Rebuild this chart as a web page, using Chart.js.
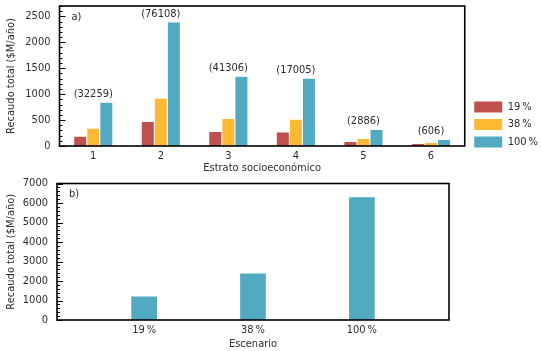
<!DOCTYPE html>
<html>
<head>
<meta charset="utf-8">
<script src="https://cdn.jsdelivr.net/npm/chart.js@4.4.1/dist/chart.umd.min.js"></script>
<style>
  body { margin: 0; background: #fff; }
  .panel { position: absolute; left: 0; width: 541px; }
</style>
</head>
<body>
<div class="panel" style="top:0;height:175px"><canvas id="chart-a" width="541" height="175"></canvas></div>
<div class="panel" style="top:175px;height:176px"><canvas id="chart-b" width="541" height="176"></canvas></div>
<script>
// panel a) recaudo por estrato
const estratos = ['1', '2', '3', '4', '5', '6'];
const recaudo19 = [180, 465, 271, 258, 78, 39];
const recaudo38 = [335, 910, 523, 504, 136, 58];
const recaudo100 = [833, 2384, 1337, 1298, 310, 116];
const contribuyentes = [32259, 76108, 41306, 17005, 2886, 606];

// panel b) recaudo total por escenario
const escenarios = ['19\u2009%', '38\u2009%', '100\u2009%'];
const recaudoTotal = [1210, 2390, 6300];

const FONT = '"Liberation Sans Narrow", "DejaVu Sans Condensed", sans-serif';
const TXT = '#2b2b33';
const ROJO = '#c0504d';
const NARANJA = '#fdb933';
const AZUL = '#52aac2';

Chart.defaults.font.family = FONT;
Chart.defaults.font.size = 11;
Chart.defaults.color = TXT;

// marco del grafico y ticks hacia adentro
const framePlugin = {
  id: 'frame',
  afterDraw(chart, args, opts) {
    const ctx = chart.ctx;
    const a = chart.chartArea;
    const y = chart.scales.y;
    ctx.save();
    ctx.strokeStyle = '#000';
    ctx.lineWidth = 1;
    y.ticks.forEach(t => {
      const py = Math.round(y.getPixelForValue(t.value)) + 0.5;
      const len = t.value % opts.major === 0 ? 6 : 3;
      ctx.beginPath();
      ctx.moveTo(a.left, py);
      ctx.lineTo(a.left + len, py);
      ctx.stroke();
    });
    ctx.lineWidth = 1.6;
    ctx.strokeRect(a.left, a.top, a.right - a.left, a.bottom - a.top);
    ctx.fillStyle = TXT;
    ctx.font = '11px ' + FONT;
    ctx.textBaseline = 'middle';
    ctx.fillText(opts.tag, a.left + opts.tagX, a.top + opts.tagY);
    ctx.restore();
  }
};

// numero de contribuyentes sobre cada grupo
const countsPlugin = {
  id: 'counts',
  afterDatasetsDraw(chart) {
    const ctx = chart.ctx;
    const x = chart.scales.x;
    const meta = chart.getDatasetMeta(2);
    ctx.save();
    ctx.fillStyle = TXT;
    ctx.font = '11px ' + FONT;
    ctx.textAlign = 'center';
    ctx.textBaseline = 'bottom';
    contribuyentes.forEach((n, i) => {
      ctx.fillText('(' + n + ')', x.getPixelForValue(i), meta.data[i].y - 3);
    });
    ctx.restore();
  }
};

// mueve la leyenda a su sitio, al lado del panel a)
const legendShift = {
  id: 'legendShift',
  afterLayout(chart, args, opts) {
    const l = chart.legend;
    l.left += opts.dx; l.right += opts.dx;
    l.top += opts.dy; l.bottom += opts.dy;
  }
};

function fixY(width) {
  return s => {
    s.width = width;
    s.paddingTop = 0;
    s.paddingBottom = 0;
  };
}

new Chart(document.getElementById('chart-a'), {
  type: 'bar',
  data: {
    labels: estratos,
    datasets: [
      { label: '19\u2009%', data: recaudo19, backgroundColor: ROJO },
      { label: '38\u2009%', data: recaudo38, backgroundColor: NARANJA },
      { label: '100\u2009%', data: recaudo100, backgroundColor: AZUL }
    ]
  },
  options: {
    responsive: false,
    animation: false,
    categoryPercentage: 0.58,
    barPercentage: 0.92,
    layout: { padding: { top: 6, right: -4, left: 0, bottom: 0 } },
    plugins: {
      legend: {
        position: 'right',
        align: 'end',
        fullSize: false,
        labels: { boxWidth: 28, boxHeight: 11, padding: 6.5, color: TXT, font: { size: 11 } }
      },
      legendShift: { dx: 3, dy: 8 },
      tooltip: { enabled: false },
      frame: { major: 500, tag: 'a)', tagX: 12, tagY: 11 }
    },
    scales: {
      x: {
        grid: { display: false, drawTicks: false },
        border: { display: false },
        ticks: { padding: 4, color: TXT },
        title: { display: true, text: 'Estrato socioeconómico', color: TXT, padding: { top: 1, bottom: 0 } },
        afterFit(s) { s.height = 29; }
      },
      y: {
        min: 0,
        max: 2700,
        grid: { display: false, drawTicks: false },
        border: { display: false },
        ticks: {
          stepSize: 100,
          autoSkip: false,
          padding: 9,
          color: TXT,
          callback: v => (v % 500 === 0 ? v : '')
        },
        title: { display: true, text: 'Recaudo total ($M/año)', color: TXT, padding: { top: 5, bottom: 0 } },
        afterFit: fixY(59.5)
      }
    }
  },
  plugins: [framePlugin, countsPlugin, legendShift]
});

new Chart(document.getElementById('chart-b'), {
  type: 'bar',
  data: {
    datasets: [{
      label: 'Total',
      data: recaudoTotal.map((v, i) => ({ x: i + 1, y: v })),
      backgroundColor: AZUL
    }]
  },
  options: {
    responsive: false,
    animation: false,
    categoryPercentage: 1,
    barPercentage: 0.236,
    layout: { padding: { top: 8.5, right: 92, left: 0, bottom: 0 } },
    plugins: {
      legend: { display: false },
      tooltip: { enabled: false },
      frame: { major: 1000, tag: 'b)', tagX: 12, tagY: 11 }
    },
    scales: {
      x: {
        type: 'linear',
        min: 0.2,
        max: 3.8,
        offset: false,
        grid: { display: false, drawTicks: false },
        border: { display: false },
        afterBuildTicks(s) { s.ticks = escenarios.map((e, i) => ({ value: i + 1 })); },
        ticks: { padding: 4, color: TXT, callback: (v) => escenarios[v - 1] },
        title: { display: true, text: 'Escenario', color: TXT, padding: { top: 1, bottom: 0 } },
        afterFit(s) { s.height = 31; }
      },
      y: {
        min: 0,
        max: 7000,
        grid: { display: false, drawTicks: false },
        border: { display: false },
        ticks: {
          stepSize: 200,
          autoSkip: false,
          padding: 9,
          color: TXT,
          callback: v => (v % 1000 === 0 ? v : '')
        },
        title: { display: true, text: 'Recaudo total ($M/año)', color: TXT, padding: { top: 5, bottom: 0 } },
        afterFit: fixY(57)
      }
    }
  },
  plugins: [framePlugin]
});
</script>
</body>
</html>
